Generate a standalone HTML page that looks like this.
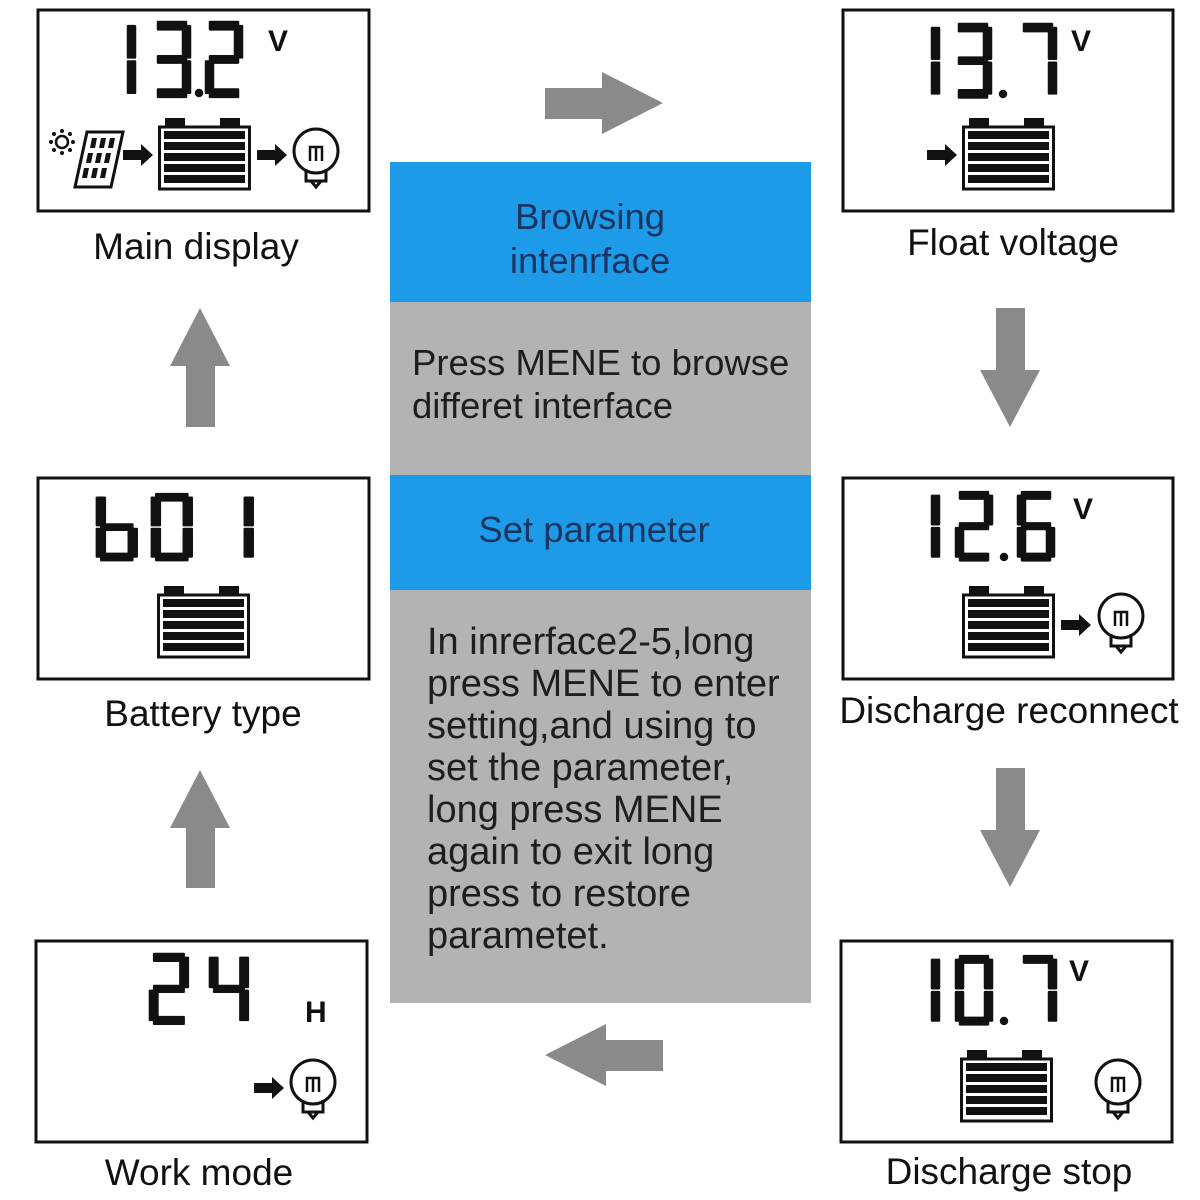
<!DOCTYPE html>
<html><head><meta charset="utf-8"><style>
body{margin:0;background:#fff}
svg{display:block}
text{font-family:"Liberation Sans",sans-serif}
</style></head><body>
<svg width="1200" height="1200" viewBox="0 0 1200 1200" xmlns="http://www.w3.org/2000/svg">
<rect width="1200" height="1200" fill="#fff"/>
<rect x="390" y="162" width="421" height="140" fill="#1e9be8"/>
<rect x="390" y="302" width="421" height="173" fill="#b3b3b3"/>
<rect x="390" y="475" width="421" height="115" fill="#1e9be8"/>
<rect x="390" y="590" width="421" height="413" fill="#b3b3b3"/>
<g font-size="36.5" fill="#1a3560" text-anchor="middle">
<text x="590" y="229">Browsing</text>
<text x="590" y="273">intenrface</text>
<text x="594" y="542">Set parameter</text>
</g>
<g font-size="36.5" fill="#1e1e1e">
<text x="412" y="375">Press MENE to browse</text>
<text x="412" y="418">differet interface</text>
</g>
<g font-size="38" fill="#1e1e1e">
<text x="427" y="654">In inrerface2-5,long</text>
<text x="427" y="696">press MENE to enter</text>
<text x="427" y="738">setting,and using to</text>
<text x="427" y="780">set the parameter,</text>
<text x="427" y="822">long press MENE</text>
<text x="427" y="864">again to exit long</text>
<text x="427" y="906">press to restore</text>
<text x="427" y="948">parametet.</text>
</g>
<g fill="#8a8a8a">
<polygon points="545,88 602,88 602,72 663,103 602,134 602,119 545,119"/>
<polygon points="663,1040 606,1040 606,1024 545,1055 606,1086 606,1071 663,1071"/>
<polygon points="186,427 186,366 170,366 200,308 230,366 215,366 215,427"/>
<polygon points="186,888 186,828 170,828 200,770 230,828 215,828 215,888"/>
<polygon points="996,308 996,370 980,370 1010,427 1040,370 1025,370 1025,308"/>
<polygon points="996,768 996,830 980,830 1010,887 1040,830 1025,830 1025,768"/>
</g>
<g fill="none" stroke="#111" stroke-width="3">
<rect x="38" y="10" width="331" height="201"/>
<rect x="843" y="10" width="330" height="201"/>
<rect x="38" y="478" width="331" height="201"/>
<rect x="843" y="478" width="330" height="201"/>
<rect x="36" y="941" width="331" height="201"/>
<rect x="841" y="941" width="331" height="201"/>
</g>
<g font-size="37" fill="#111" text-anchor="middle">
<text x="196" y="259">Main display</text>
<text x="1013" y="255">Float voltage</text>
<text x="203" y="726">Battery type</text>
<text x="1009" y="723">Discharge reconnect</text>
<text x="199" y="1185">Work mode</text>
<text x="1009" y="1184">Discharge stop</text>
</g>
<g font-size="30" font-weight="bold" fill="#111">
<text x="268" y="51">V</text>
<text x="1071" y="51">V</text>
<text x="1073" y="519">V</text>
<text x="1069" y="981">V</text>
<text x="305" y="1022">H</text>
</g>
<g fill="#111" stroke="#111" stroke-width="2.5" stroke-linejoin="round">
<g transform="translate(99,22) scale(1,1.04)"><rect x="29" y="4" width="7" height="30"/><rect x="29" y="38" width="7" height="30"/></g>
<g transform="translate(154,22) scale(1,1.04)"><rect x="4" y="0" width="28" height="7"/><rect x="29" y="4" width="7" height="30"/><rect x="29" y="38" width="7" height="30"/><rect x="4" y="65" width="28" height="7"/><rect x="4" y="33" width="28" height="6"/></g>
<circle cx="199" cy="93" r="3"/>
<g transform="translate(206,22) scale(1,1.04)"><rect x="4" y="0" width="28" height="7"/><rect x="29" y="4" width="7" height="30"/><rect x="4" y="65" width="28" height="7"/><rect x="0" y="38" width="7" height="30"/><rect x="4" y="33" width="28" height="6"/></g>
<g transform="translate(903,24) scale(1,1.02)"><rect x="29" y="4" width="7" height="30"/><rect x="29" y="38" width="7" height="30"/></g>
<g transform="translate(955,24) scale(1,1.02)"><rect x="4" y="0" width="28" height="7"/><rect x="29" y="4" width="7" height="30"/><rect x="29" y="38" width="7" height="30"/><rect x="4" y="65" width="28" height="7"/><rect x="4" y="33" width="28" height="6"/></g>
<circle cx="1003" cy="94" r="3"/>
<g transform="translate(1020,24) scale(1,1.02)"><rect x="4" y="0" width="28" height="7"/><rect x="29" y="4" width="7" height="30"/><rect x="29" y="38" width="7" height="30"/></g>
<g transform="translate(97,494) scale(1.1,0.92)"><rect x="29" y="38" width="7" height="30"/><rect x="4" y="65" width="28" height="7"/><rect x="0" y="38" width="7" height="30"/><rect x="0" y="4" width="7" height="30"/><rect x="4" y="33" width="28" height="6"/></g>
<g transform="translate(152,494) scale(1.1,0.92)"><rect x="4" y="0" width="28" height="7"/><rect x="29" y="4" width="7" height="30"/><rect x="29" y="38" width="7" height="30"/><rect x="4" y="65" width="28" height="7"/><rect x="0" y="38" width="7" height="30"/><rect x="0" y="4" width="7" height="30"/></g>
<g transform="translate(213,494) scale(1.1,0.92)"><rect x="29" y="4" width="7" height="30"/><rect x="29" y="38" width="7" height="30"/></g>
<g transform="translate(903,492) scale(1,0.95)"><rect x="29" y="4" width="7" height="30"/><rect x="29" y="38" width="7" height="30"/></g>
<g transform="translate(956,492) scale(1,0.95)"><rect x="4" y="0" width="28" height="7"/><rect x="29" y="4" width="7" height="30"/><rect x="4" y="65" width="28" height="7"/><rect x="0" y="38" width="7" height="30"/><rect x="4" y="33" width="28" height="6"/></g>
<circle cx="1004" cy="557" r="3"/>
<g transform="translate(1018,492) scale(1,0.95)"><rect x="4" y="0" width="28" height="7"/><rect x="29" y="38" width="7" height="30"/><rect x="4" y="65" width="28" height="7"/><rect x="0" y="38" width="7" height="30"/><rect x="0" y="4" width="7" height="30"/><rect x="4" y="33" width="28" height="6"/></g>
<g transform="translate(150,954) scale(1.05,0.97)"><rect x="4" y="0" width="28" height="7"/><rect x="29" y="4" width="7" height="30"/><rect x="4" y="65" width="28" height="7"/><rect x="0" y="38" width="7" height="30"/><rect x="4" y="33" width="28" height="6"/></g>
<g transform="translate(210,954) scale(1.05,0.97)"><rect x="29" y="4" width="7" height="30"/><rect x="29" y="38" width="7" height="30"/><rect x="0" y="4" width="7" height="30"/><rect x="4" y="33" width="28" height="6"/></g>
<g transform="translate(903,956) scale(1,0.95)"><rect x="29" y="4" width="7" height="30"/><rect x="29" y="38" width="7" height="30"/></g>
<g transform="translate(956,956) scale(1,0.95)"><rect x="4" y="0" width="28" height="7"/><rect x="29" y="4" width="7" height="30"/><rect x="29" y="38" width="7" height="30"/><rect x="4" y="65" width="28" height="7"/><rect x="0" y="38" width="7" height="30"/><rect x="0" y="4" width="7" height="30"/></g>
<circle cx="1004" cy="1021" r="3"/>
<g transform="translate(1020,956) scale(1,0.95)"><rect x="4" y="0" width="28" height="7"/><rect x="29" y="4" width="7" height="30"/><rect x="29" y="38" width="7" height="30"/></g>
</g>
<g transform="translate(158,118)">
<rect x="7" y="0" width="20" height="10" fill="#111"/><rect x="62" y="0" width="20" height="10" fill="#111"/>
<rect x="1.5" y="9" width="90" height="62" fill="#fff" stroke="#111" stroke-width="3"/>
<g fill="#111"><rect x="6" y="13" width="81" height="8"/><rect x="6" y="24" width="81" height="8"/><rect x="6" y="35" width="81" height="8"/><rect x="6" y="46" width="81" height="8"/><rect x="6" y="57" width="81" height="8"/></g>
</g>
<g transform="translate(962,118)">
<rect x="7" y="0" width="20" height="10" fill="#111"/><rect x="62" y="0" width="20" height="10" fill="#111"/>
<rect x="1.5" y="9" width="90" height="62" fill="#fff" stroke="#111" stroke-width="3"/>
<g fill="#111"><rect x="6" y="13" width="81" height="8"/><rect x="6" y="24" width="81" height="8"/><rect x="6" y="35" width="81" height="8"/><rect x="6" y="46" width="81" height="8"/><rect x="6" y="57" width="81" height="8"/></g>
</g>
<g transform="translate(157,586)">
<rect x="7" y="0" width="20" height="10" fill="#111"/><rect x="62" y="0" width="20" height="10" fill="#111"/>
<rect x="1.5" y="9" width="90" height="62" fill="#fff" stroke="#111" stroke-width="3"/>
<g fill="#111"><rect x="6" y="13" width="81" height="8"/><rect x="6" y="24" width="81" height="8"/><rect x="6" y="35" width="81" height="8"/><rect x="6" y="46" width="81" height="8"/><rect x="6" y="57" width="81" height="8"/></g>
</g>
<g transform="translate(962,586)">
<rect x="7" y="0" width="20" height="10" fill="#111"/><rect x="62" y="0" width="20" height="10" fill="#111"/>
<rect x="1.5" y="9" width="90" height="62" fill="#fff" stroke="#111" stroke-width="3"/>
<g fill="#111"><rect x="6" y="13" width="81" height="8"/><rect x="6" y="24" width="81" height="8"/><rect x="6" y="35" width="81" height="8"/><rect x="6" y="46" width="81" height="8"/><rect x="6" y="57" width="81" height="8"/></g>
</g>
<g transform="translate(960,1050)">
<rect x="7" y="0" width="20" height="10" fill="#111"/><rect x="62" y="0" width="20" height="10" fill="#111"/>
<rect x="1.5" y="9" width="90" height="62" fill="#fff" stroke="#111" stroke-width="3"/>
<g fill="#111"><rect x="6" y="13" width="81" height="8"/><rect x="6" y="24" width="81" height="8"/><rect x="6" y="35" width="81" height="8"/><rect x="6" y="46" width="81" height="8"/><rect x="6" y="57" width="81" height="8"/></g>
</g>
<g fill="#111">
<polygon points="123,150 141,150 141,144 153,155 141,166 141,160 123,160"/>
<polygon points="257,150 275,150 275,144 287,155 275,166 275,160 257,160"/>
<polygon points="927,150 945,150 945,144 957,155 945,166 945,160 927,160"/>
<polygon points="1061,620 1079,620 1079,614 1091,625 1079,636 1079,630 1061,630"/>
<polygon points="254,1083 272,1083 272,1077 284,1088 272,1099 272,1093 254,1093"/>
</g>
<g fill="none" stroke="#111" stroke-width="3">
<g transform="translate(316,151)"><circle r="22"/><path d="M-10,18 V30 H10 V18 M-5,30 L0,36 L5,30"/><path d="M-6,10 V-4 H6 V10 M0,-4 V10" stroke-width="2.5"/></g>
<g transform="translate(1121,616)"><circle r="22"/><path d="M-10,18 V30 H10 V18 M-5,30 L0,36 L5,30"/><path d="M-6,10 V-4 H6 V10 M0,-4 V10" stroke-width="2.5"/></g>
<g transform="translate(313,1082)"><circle r="22"/><path d="M-10,18 V30 H10 V18 M-5,30 L0,36 L5,30"/><path d="M-6,10 V-4 H6 V10 M0,-4 V10" stroke-width="2.5"/></g>
<g transform="translate(1118,1082)"><circle r="22"/><path d="M-10,18 V30 H10 V18 M-5,30 L0,36 L5,30"/><path d="M-6,10 V-4 H6 V10 M0,-4 V10" stroke-width="2.5"/></g>
</g>
<g transform="translate(75,132)">
<polygon points="12,0 48,0 36,55 0,55" fill="#fff" stroke="#111" stroke-width="3"/>
<g fill="#111">
<polygon points="17,6 22,6 20,16 15,16"/><polygon points="26,6 31,6 29,16 24,16"/><polygon points="35,6 40,6 38,16 33,16"/>
<polygon points="13,21 18,21 16,31 11,31"/><polygon points="22,21 27,21 25,31 20,31"/><polygon points="31,21 36,21 34,31 29,31"/>
<polygon points="9,36 14,36 12,46 7,46"/><polygon points="18,36 23,36 21,46 16,46"/><polygon points="27,36 32,36 30,46 25,46"/>
</g>
</g>
<g transform="translate(62,142)">
<circle r="6" fill="none" stroke="#111" stroke-width="2.5"/>
<g fill="#111"><circle cx="0" cy="-11" r="2"/><circle cx="0" cy="11" r="2"/><circle cx="-11" cy="0" r="2"/><circle cx="11" cy="0" r="2"/><circle cx="-8" cy="-8" r="2"/><circle cx="8" cy="-8" r="2"/><circle cx="-8" cy="8" r="2"/><circle cx="8" cy="8" r="2"/></g>
</g>
</svg>
</body></html>
